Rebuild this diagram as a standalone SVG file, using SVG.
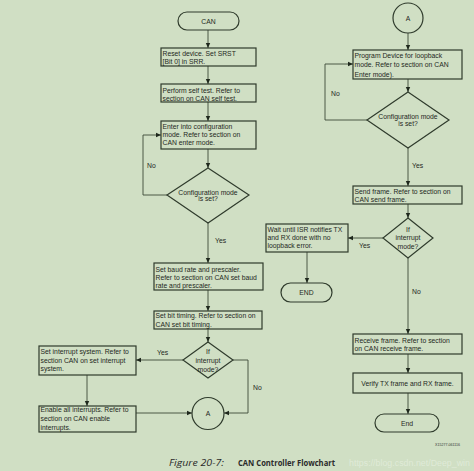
<svg xmlns="http://www.w3.org/2000/svg" width="474" height="471" viewBox="0 0 474 471">
<style>
.bg{fill:#d0dfc4}
.box{fill:#d0dfc4;stroke:#2f3b2c;stroke-width:1.2}
.ln{fill:none;stroke:#3d4a39;stroke-width:0.9}
.t{font-family:"Liberation Sans",Arial,sans-serif;font-size:6.8px;fill:#1f281d}
.c{text-anchor:middle}
.lab{font-family:"Liberation Sans",Arial,sans-serif;font-size:6.8px;fill:#1f281d}
.cap{font-family:"Open Sans","Noto Sans",sans-serif;font-size:9.5px;fill:#2a2a2a}
</style>
<defs>
<marker id="ar" markerWidth="6" markerHeight="6" refX="5" refY="3" orient="auto" markerUnits="userSpaceOnUse">
<path d="M0,0.8 L5,3 L0,5.2 Z" fill="#1f281d"/>
</marker>
</defs>
<rect class="bg" x="0" y="0" width="474" height="471"/>

<g id="connectors">
<path class="ln" d="M208,30 V48" marker-end="url(#ar)"/>
<path class="ln" d="M208,66 V84" marker-end="url(#ar)"/>
<path class="ln" d="M208,102 V121" marker-end="url(#ar)"/>
<path class="ln" d="M208,149 V168" marker-end="url(#ar)"/>
<path class="ln" d="M167,195 H143 V135 H161" marker-end="url(#ar)"/>
<path class="ln" d="M208,223 V263" marker-end="url(#ar)"/>
<path class="ln" d="M208,290 V311" marker-end="url(#ar)"/>
<path class="ln" d="M208,329 V342" marker-end="url(#ar)"/>
<path class="ln" d="M183,360 H136" marker-end="url(#ar)"/>
<path class="ln" d="M87,375 V406" marker-end="url(#ar)"/>
<path class="ln" d="M136,413 H192" marker-end="url(#ar)"/>
<path class="ln" d="M233,360 H248 V413 H224" marker-end="url(#ar)"/>
<path class="ln" d="M408,33 V50" marker-end="url(#ar)"/>
<path class="ln" d="M408,79 V92" marker-end="url(#ar)"/>
<path class="ln" d="M367,120 H325 V64 H353" marker-end="url(#ar)"/>
<path class="ln" d="M408,148 V186" marker-end="url(#ar)"/>
<path class="ln" d="M408,204 V218" marker-end="url(#ar)"/>
<path class="ln" d="M383,238 H348" marker-end="url(#ar)"/>
<path class="ln" d="M307,252 V283" marker-end="url(#ar)"/>
<path class="ln" d="M408,258 V334" marker-end="url(#ar)"/>
<path class="ln" d="M408,354 V373" marker-end="url(#ar)"/>
<path class="ln" d="M408,393 V414" marker-end="url(#ar)"/>
<text class="lab" x="147" y="168">No</text>
<text class="lab" x="215" y="243">Yes</text>
<text class="lab" x="157" y="355">Yes</text>
<text class="lab" x="253" y="389.5">No</text>
<text class="lab" x="331" y="95.5">No</text>
<text class="lab" x="412" y="167.5">Yes</text>
<text class="lab" x="359" y="248">Yes</text>
<text class="lab" x="412" y="293.5">No</text>
</g>

<g id="start-can">
<rect class="box" x="178" y="12" width="61" height="18" rx="9"/>
<text class="t c" x="208.5" y="23.5">CAN</text>
</g>
<g id="reset">
<rect class="box" x="161" y="48" width="95" height="18"/>
<text class="t" x="162.5" y="56">Reset device. Set SRST</text>
<text class="t" x="162.5" y="64">[Bit 0] in SRR.</text>
</g>
<g id="selftest">
<rect class="box" x="161" y="84" width="95" height="18"/>
<text class="t" x="162.5" y="92.5">Perform self test. Refer to</text>
<text class="t" x="162.5" y="100.5">section on CAN self test.</text>
</g>
<g id="enter-config">
<rect class="box" x="161" y="121" width="95" height="28"/>
<text class="t" x="162.5" y="128.5">Enter into configuration</text>
<text class="t" x="162.5" y="137">mode. Refer to section on</text>
<text class="t" x="162.5" y="145">CAN enter mode.</text>
</g>
<g id="config-set-1">
<polygon class="box" points="208,168 249,195 208,223 167,195"/>
<text class="t c" x="208" y="194.5">Configuration mode</text>
<text class="t c" x="208" y="201">is set?</text>
</g>
<g id="baud">
<rect class="box" x="154" y="263" width="109" height="27"/>
<text class="t" x="155.5" y="271.5">Set baud rate and prescaler.</text>
<text class="t" x="155.5" y="279.5">Refer to section on CAN set baud</text>
<text class="t" x="155.5" y="288">rate and prescaler.</text>
</g>
<g id="bit-timing">
<rect class="box" x="154" y="311" width="108" height="18"/>
<text class="t" x="155.5" y="318">Set bit timing. Refer to section on</text>
<text class="t" x="155.5" y="326.5">CAN set bit timing.</text>
</g>
<g id="interrupt-1">
<polygon class="box" points="208,342 233,360 208,378 183,360"/>
<text class="t c" x="208" y="353.5">If</text>
<text class="t c" x="208" y="362.5">interrupt</text>
<text class="t c" x="208" y="371.5">mode?</text>
</g>
<g id="set-interrupt">
<rect class="box" x="39" y="346" width="97" height="29"/>
<text class="t" x="40.5" y="353.5">Set interrupt system. Refer to</text>
<text class="t" x="40.5" y="362.5">section CAN on set interrupt</text>
<text class="t" x="40.5" y="371">system.</text>
</g>
<g id="enable-interrupts">
<rect class="box" x="39" y="406" width="97" height="26"/>
<text class="t" x="40.5" y="412">Enable all interrupts. Refer to</text>
<text class="t" x="40.5" y="421">section on CAN enable</text>
<text class="t" x="40.5" y="429.5">interrupts.</text>
</g>
<g id="connector-a-1">
<circle class="box" cx="208" cy="413.5" r="16"/>
<text class="t c" x="208" y="416">A</text>
</g>

<g id="connector-a-2">
<circle class="box" cx="408" cy="18" r="15"/>
<text class="t c" x="408" y="20.5">A</text>
</g>
<g id="loopback">
<rect class="box" x="353" y="50" width="109" height="29"/>
<text class="t" x="354.5" y="57.5">Program Device for loopback</text>
<text class="t" x="354.5" y="67">mode. Refer to section on CAN</text>
<text class="t" x="354.5" y="76.5">Enter mode).</text>
</g>
<g id="config-set-2">
<polygon class="box" points="408,92 449,120 408,148 367,120"/>
<text class="t c" x="408" y="119">Configuration mode</text>
<text class="t c" x="408" y="125.5">is set?</text>
</g>
<g id="send-frame">
<rect class="box" x="353" y="186" width="109" height="18"/>
<text class="t" x="354.5" y="194">Send frame. Refer to section on</text>
<text class="t" x="354.5" y="201.7">CAN send frame.</text>
</g>
<g id="interrupt-2">
<polygon class="box" points="408,218 433,238 408,258 383,238"/>
<text class="t c" x="408" y="231.5">If</text>
<text class="t c" x="408" y="240">interrupt</text>
<text class="t c" x="408" y="249">mode?</text>
</g>
<g id="wait-isr">
<rect class="box" x="266" y="224" width="82" height="28"/>
<text class="t" x="267.5" y="231.5">Wait until ISR notifies TX</text>
<text class="t" x="267.5" y="240">and RX done with no</text>
<text class="t" x="267.5" y="248">loopback error.</text>
</g>
<g id="end-1">
<rect class="box" x="281" y="283" width="51" height="19" rx="9.5"/>
<text class="t c" x="306.5" y="295">END</text>
</g>
<g id="receive-frame">
<rect class="box" x="353" y="334" width="109" height="20"/>
<text class="t" x="354.5" y="343">Receive frame. Refer to section</text>
<text class="t" x="354.5" y="351">on CAN receive frame.</text>
</g>
<g id="verify">
<rect class="box" x="353" y="373" width="109" height="20"/>
<text class="t c" x="407.5" y="385.5">Verify TX frame and RX frame.</text>
</g>
<g id="end-2">
<rect class="box" x="375" y="414" width="64" height="18" rx="9"/>
<text class="t c" x="407" y="425.5">End</text>
</g>

<text x="435" y="446" style="font-family:'Liberation Sans',sans-serif;font-size:3.6px;fill:#333">X15277-061116</text>
<text class="cap" x="169" y="465.5" font-style="italic" textLength="55" lengthAdjust="spacingAndGlyphs">Figure 20-7:</text>
<text class="cap" x="238" y="465.5" font-weight="bold" textLength="97" lengthAdjust="spacingAndGlyphs">CAN Controller Flowchart</text>
<text x="349" y="465.5" style="font-family:'Liberation Sans',sans-serif;font-size:8.5px;fill:#ffffff;fill-opacity:0.35" textLength="121" lengthAdjust="spacingAndGlyphs">https://blog.csdn.net/Deep_win</text>
</svg>
